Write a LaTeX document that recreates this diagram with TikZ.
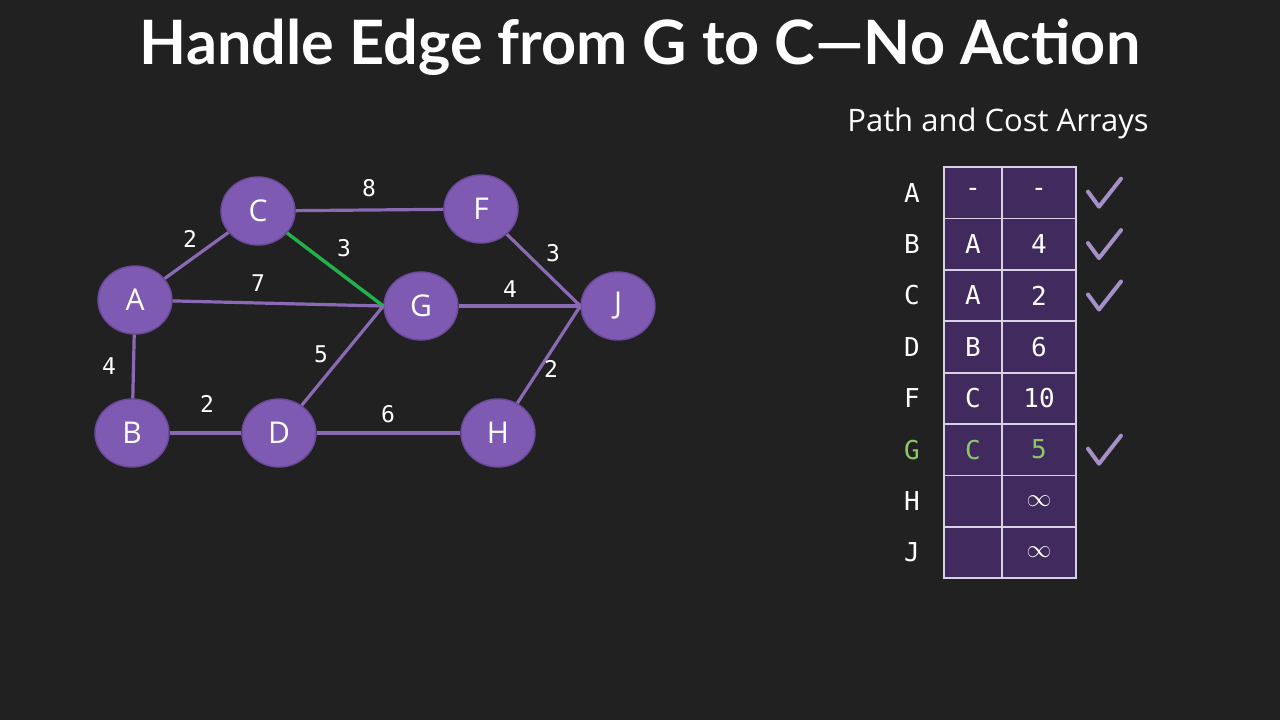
\documentclass[tikz,border=0pt]{standalone}
\usepackage{fontspec}
\setmainfont{Open Sans}
\newfontfamily\titlefont{Lato}
\newfontfamily\monofont{DejaVu Sans Mono}
\usetikzlibrary{shapes.geometric}
\definecolor{bg}{HTML}{212121}
\definecolor{nodefill}{HTML}{7E5AB3}
\definecolor{nodeline}{HTML}{6B4A9C}
\definecolor{edgecol}{HTML}{8A6AB5}
\definecolor{greenedge}{HTML}{22B24C}
\definecolor{greentext}{HTML}{8DC865}
\definecolor{cellfill}{HTML}{402A5E}
\definecolor{cellline}{HTML}{D8D0E4}
\definecolor{checkcol}{HTML}{A690C8}
\tikzset{
  vertex/.style={ellipse, fill=nodefill, draw=nodeline, line width=1.4pt,
    minimum width=74pt, minimum height=68pt, inner sep=0pt,
    text=white, font=\fontsize{30}{30}\selectfont},
  edge/.style={draw=edgecol, line width=3.2pt},
  hot/.style={draw=greenedge, line width=3.4pt},
  wt/.style={text=white, font=\monofont\fontsize{23}{23}\selectfont, inner sep=0pt},
  cell/.style={rectangle, fill=cellfill, draw=cellline, line width=1.8pt,
    minimum height=51.4pt, inner sep=0pt, text=white,
    font=\monofont\fontsize{26}{26}\selectfont},
  pcell/.style={cell, minimum width=58pt},
  ccell/.style={cell, minimum width=74pt},
  rowlab/.style={text=white, font=\monofont\fontsize{26}{26}\selectfont, inner sep=0pt},
  tick/.style={draw=checkcol, line width=4pt, line cap=round, line join=round}
}
\begin{document}
\begin{tikzpicture}[x=1pt,y=-1pt]
\useasboundingbox[fill=bg] (0,0) rectangle (1280,720);
% title
\node[text=white, inner sep=0pt] (title) at (640,47)
  {\resizebox{1000pt}{!}{\titlefont\bfseries Handle Edge from G to C—No Action}};
\node[text=white, inner sep=0pt, font=\fontsize{31}{31}\selectfont] (sub) at (998,123) {Path and Cost Arrays};
% graph nodes
\node[vertex] (A) at (135,300) {A};
\node[vertex] (C) at (258,211) {C};
\node[vertex] (F) at (481,209) {F};
\node[vertex] (G) at (421,306) {G};
\node[vertex] (J) at (618,306) {J};
\node[vertex] (B) at (132,433) {B};
\node[vertex] (D) at (279,433) {D};
\node[vertex] (H) at (498,433) {H};
% edges
\path[edge] (A) -- (C);
\path[edge] (C) -- (F);
\path[edge] (A) -- (G.west);
\path[hot] (C) -- (G.west);
\path[edge] (D) -- (G.west);
\path[edge] (G) -- (J.west);
\path[edge] (F) -- (J.west);
\path[edge] (H) -- (J.west);
\path[edge] (A) -- (B);
\path[edge] (B) -- (D);
\path[edge] (D) -- (H);
% weights
\node[wt] (w1) at (369,188) {8};
\node[wt] (w2) at (190,239) {2};
\node[wt] (w3) at (344,248) {3};
\node[wt] (w4) at (258,283) {7};
\node[wt] (w5) at (510,289) {4};
\node[wt] (w6) at (553,253) {3};
\node[wt] (w7) at (321,354) {5};
\node[wt] (w8) at (551,369) {2};
\node[wt] (w9) at (109,366) {4};
\node[wt] (w10) at (207,404) {2};
\node[wt] (w11) at (388,414) {6};
% table
\foreach \i/\lab/\p/\c/\col in {0/A/-/-/white, 1/B/A/4/white, 2/C/A/2/white, 3/D/B/6/white,
  4/F/C/10/white, 5/G/C/5/greentext, 6/H//$\infty$/white, 7/J//$\infty$/white}{
  \node[rowlab, text=\col] (r\lab) at (912,192.7+51.4*\i) {\lab};
  \node[pcell, text=\col] (p\lab) at (973,192.7+51.4*\i) {\p};
  \node[ccell, text=\col] (c\lab) at (1039,192.7+51.4*\i) {\c};
}
% check marks
\foreach \lab in {A,B,C,G}{
  \coordinate (k\lab) at ([xshift=49pt,yshift=1pt]c\lab.center);
  \draw[tick] (k\lab) -- ++(11,15) -- ++(22,-28);
}
\end{tikzpicture}
\end{document}
